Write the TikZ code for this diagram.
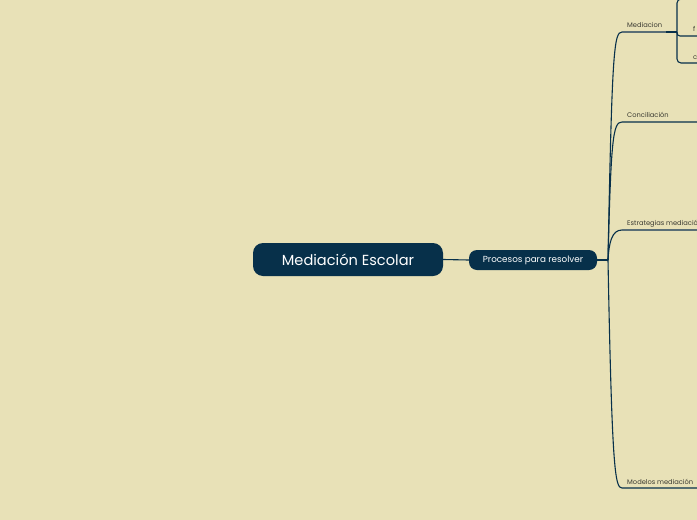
\documentclass[tikz,border=0pt]{standalone}
\usepackage{fontspec}
\setmainfont{Poppins}
\definecolor{bg}{HTML}{E8E1B7}
\definecolor{navy}{HTML}{07304A}
\definecolor{lbl}{HTML}{3A3A32}
\definecolor{uline}{HTML}{5A6E76}
\tikzset{
  rootbox/.style={fill=navy, rounded corners=10pt, minimum width=190pt, minimum height=33pt, inner sep=0pt, text=white, font=\fontsize{14.6}{16}\selectfont},
  subbox/.style={fill=navy, rounded corners=8pt, minimum width=128pt, minimum height=20pt, inner sep=0pt, text=white, font=\fontsize{8.8}{10}\selectfont},
  conn/.style={draw=navy, line width=1.1pt},
  lab/.style={text=lbl, font=\fontsize{6.7}{8}\selectfont, inner sep=0pt, anchor=base west},
}
\begin{document}
\begin{tikzpicture}[x=1pt,y=-1pt]
\fill[bg] (0,0) rectangle (697,520);
\useasboundingbox (0,0) rectangle (697,520);
\clip (0,0) rectangle (697,520);

\node[rootbox] (root) at (348,259.5) {Mediación Escolar};
\node[subbox] (proc) at (533,260) {Procesos para resolver};
\draw[conn] (root.east) -- (proc.west);
\coordinate (hub) at (608,260);
\draw[conn] (proc.east) -- (hub);

% labels
\node[lab] (med) at (627,27) {Mediacion};
\node[lab] (con) at (627,117) {Conciliación};
\node[lab] (est) at (627,225) {Estrategias mediación};
\node[lab] (mod) at (627,484) {Modelos mediación};

\coordinate (medS) at (622,32);
\coordinate (medU) at (666,32);
\coordinate (medE) at (677,32);
\coordinate (conS) at (622,122);
\coordinate (conE) at (700,122);
\coordinate (estS) at (622,230);
\coordinate (estE) at (700,230);
\coordinate (modS) at (622,488);
\coordinate (modE) at (700,488);

\draw[conn] (hub) .. controls (612,50) and (614,32) .. (medS);
\draw[draw=uline, line width=1.1pt] (medS) -- (medU);
\draw[conn] (medU) -- (medE);
\draw[conn] (hub) .. controls (611,138) and (613,122) .. (conS) -- (conE);
\draw[conn] (hub) .. controls (609,242) and (612,230) .. (estS);
\draw[draw=uline, line width=1.1pt] (estS) -- (estE);
\draw[conn] (hub) .. controls (612,470) and (615,488) .. (modS) -- (modE);

% Mediacion children
\coordinate (c1) at (700,-1);
\coordinate (c2) at (700,36);
\coordinate (c3) at (700,63);
\draw[conn, rounded corners=4pt] (medE) -- (677,-1) -- (c1);
\draw[conn, rounded corners=3pt] (medE) -- (677,36) -- (c2);
\draw[conn, rounded corners=4pt] (medE) -- (677,63) -- (c3);
\node[lab] (f) at (693,31) {f};
\node[lab] (c) at (693,59) {c};
\end{tikzpicture}
\end{document}
